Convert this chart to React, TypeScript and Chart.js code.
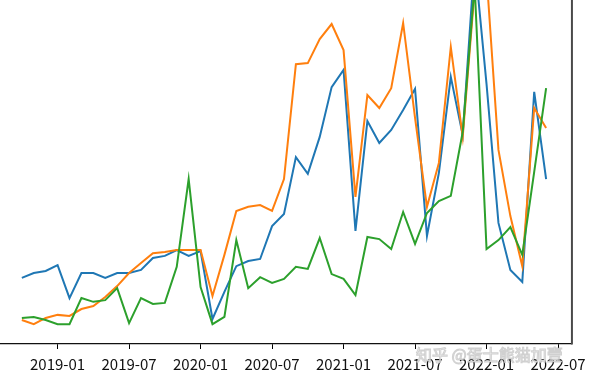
import React, { useEffect, useRef } from 'react';
import { Chart, registerables } from 'chart.js';

Chart.register(...registerables);

const months: string[] = [
  '2018-10', '2018-11', '2018-12',
  '2019-01', '2019-02', '2019-03', '2019-04', '2019-05', '2019-06',
  '2019-07', '2019-08', '2019-09', '2019-10', '2019-11', '2019-12',
  '2020-01', '2020-02', '2020-03', '2020-04', '2020-05', '2020-06',
  '2020-07', '2020-08', '2020-09', '2020-10', '2020-11', '2020-12',
  '2021-01', '2021-02', '2021-03', '2021-04', '2021-05', '2021-06',
  '2021-07', '2021-08', '2021-09', '2021-10', '2021-11', '2021-12',
  '2022-01', '2022-02', '2022-03', '2022-04', '2022-05', '2022-06',
];

const blueSeries: number[] = [
  19.0, 20.4, 21.0,
  22.7, 13.1, 20.4, 20.4, 19.0, 20.4,
  20.4, 21.3, 24.8, 25.4, 27.1, 25.4,
  26.8, 7.0, 14.9, 22.4, 23.9, 24.5,
  34.1, 37.6, 54.2, 49.3, 60.1, 74.6,
  79.6, 32.7, 64.7, 58.3, 62.1, 67.9,
  74.1, 31.2, 49.6, 77.6, 60.6, 111.7,
  75.5, 35.0, 21.3, 17.8, 73.2, 47.8,
];

const orangeSeries: number[] = [
  6.7, 5.5, 7.3,
  8.2, 7.9, 9.9, 10.8, 13.4, 16.6,
  20.4, 23.3, 26.2, 26.5, 27.1, 27.1,
  27.1, 13.7, 25.7, 38.5, 39.7, 40.2,
  38.5, 47.8, 81.3, 81.6, 88.6, 93.0,
  85.4, 42.6, 72.3, 68.5, 74.3, 93.3,
  65.6, 39.7, 52.5, 86.3, 60.1, 102.9,
  107.3, 56.3, 37.0, 22.4, 68.5, 62.7,
];

const greenSeries: number[] = [
  7.3, 7.6, 6.7,
  5.5, 5.5, 13.1, 12.0, 12.5, 16.0,
  5.8, 13.1, 11.4, 11.7, 22.2, 47.8,
  16.3, 5.5, 7.6, 30.0, 16.0, 19.2,
  17.5, 18.7, 22.2, 21.6, 30.6, 20.1,
  18.7, 14.0, 30.9, 30.3, 27.4, 38.2,
  28.9, 37.9, 41.4, 42.9, 61.5, 104.4,
  27.4, 30.0, 33.8, 25.7, 49.9, 74.3,
];

const tickLabels: string[] = [
  '2019-01', '2019-07', '2020-01', '2020-07',
  '2021-01', '2021-07', '2022-01', '2022-07',
];

const watermark = '知乎 @蛋士熊猫加壹';

function monthIndex(s: string): number {
  const [y, m] = s.split('-').map(Number);
  return (y - 2019) * 12 + (m - 1);
}

function labelFor(v: number): string {
  const y = 2019 + Math.floor(v / 12);
  const m = ((v % 12) + 12) % 12 + 1;
  return `${y}-${m < 10 ? '0' + m : m}`;
}

const spinePlugin = {
  id: 'spines',
  afterDraw(chart: any) {
    const { ctx, chartArea } = chart;
    ctx.save();
    ctx.strokeStyle = '#4a4a4a';
    ctx.lineWidth = 2;
    ctx.beginPath();
    ctx.moveTo(chartArea.right, 0);
    ctx.lineTo(chartArea.right, chartArea.bottom + 0.5);
    ctx.stroke();
    // watermark
    ctx.font = "16px 'Noto Sans CJK SC'";
    ctx.textBaseline = 'alphabetic';
    ctx.textAlign = 'left';
    ctx.lineWidth = 1;
    ctx.strokeStyle = 'rgba(170,170,170,0.55)';
    ctx.fillStyle = 'rgba(255,255,255,0.9)';
    ctx.fillText(watermark, 416, 361);
    ctx.strokeText(watermark, 416, 361);
    ctx.restore();
  },
};

export default function App() {
  const canvasRef = useRef<HTMLCanvasElement | null>(null);

  useEffect(() => {
    const canvas = canvasRef.current;
    if (!canvas) return;
    const xs = months.map(monthIndex);
    const toPoints = (arr: number[]) => xs.map((x, i) => ({ x, y: arr[i] }));
    const tickValues = tickLabels.map(monthIndex);

    const chart = new Chart(canvas, {
      type: 'line',
      data: {
        datasets: [
          {
            data: toPoints(blueSeries),
            borderColor: '#1f77b4',
            borderWidth: 2,
            pointRadius: 0,
            tension: 0,
            order: 2,
          },
          {
            data: toPoints(orangeSeries),
            borderColor: '#ff7f0e',
            borderWidth: 2,
            pointRadius: 0,
            tension: 0,
            order: 1,
          },
          {
            data: toPoints(greenSeries),
            borderColor: '#2ca02c',
            borderWidth: 2,
            pointRadius: 0,
            tension: 0,
            order: 0,
          },
        ],
      },
      options: {
        animation: false,
        responsive: false,
        maintainAspectRatio: false,
        layout: { padding: { left: 0, right: 16, top: 0, bottom: 0 } },
        plugins: {
          legend: { display: false },
          tooltip: { enabled: false },
        },
        scales: {
          x: {
            type: 'linear',
            min: -58 / 12,
            max: -58 / 12 + 48,
            afterBuildTicks: (scale: any) => {
              scale.ticks = tickValues.map((v) => ({ value: v }));
            },
            afterFit: (scale: any) => {
              scale.height = 36;
            },
            ticks: {
              autoSkip: false,
              maxRotation: 0,
              minRotation: 0,
              padding: 6,
              color: '#111',
              font: { family: "'Noto Sans CJK SC'", size: 15 },
              callback: (v: any) => labelFor(Number(v)),
            },
            grid: {
              drawOnChartArea: false,
              drawTicks: true,
              tickLength: 5,
              color: '#000',
              lineWidth: 1,
            },
            border: { display: true, color: '#111', width: 1.2 },
          },
          y: {
            display: false,
            min: -0.29,
            max: 100,
          },
        },
      },
      plugins: [spinePlugin],
    });

    return () => chart.destroy();
  }, []);

  return (
    <div style={{ position: 'fixed', left: 0, top: 0, width: 592, height: 380, background: '#fff' }}>
      <canvas ref={canvasRef} width={592} height={380} style={{ display: 'block' }} />
    </div>
  );
}
